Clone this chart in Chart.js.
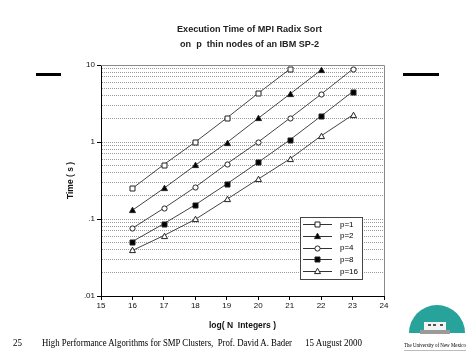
<!DOCTYPE html>
<html><head><meta charset="utf-8">
<script src="https://cdn.jsdelivr.net/npm/chart.js@4/dist/chart.umd.min.js"></script>
<style>
html,body{margin:0;padding:0;background:#fff;width:474px;height:355px;overflow:hidden;position:relative}
#c{position:absolute;left:0;top:0}
.t{position:absolute;white-space:nowrap;transform-origin:left top;line-height:1;color:#000}
.ttl{font-family:"Liberation Sans",Arial,sans-serif;font-weight:bold;font-size:9px;color:#222}
.ft{font-family:"Liberation Serif","Times New Roman",serif;font-size:11px}
.bar{position:absolute;height:3px;background:#000}
</style></head><body>
<canvas id="c" width="474" height="355"></canvas>
<div class="t ttl" data-w="145" style="left:177px;top:25px">Execution Time of MPI Radix Sort</div>
<div class="t ttl" data-w="139" style="left:180px;top:40px">on&nbsp; p&nbsp; thin nodes of an IBM SP-2</div>
<div class="bar" style="left:36px;top:73px;width:25px"></div>
<div class="bar" style="left:403px;top:73px;width:36px"></div>
<div class="t ft" data-w="9" style="left:13px;top:337px">25</div>
<div class="t ft" data-w="250" style="left:42px;top:337px">High Performance Algorithms for SMP Clusters,&nbsp; Prof. David A. Bader</div>
<div class="t ft" data-w="57" style="left:305px;top:337px">15 August 2000</div>
<div style="position:absolute;left:409px;top:305px;width:56px;height:28px;background:#27a39c;border-radius:28px 28px 0 0"></div>
<div style="position:absolute;left:424px;top:322px;width:22px;height:12px;background:#f4f4f4"></div>
<div style="position:absolute;left:420px;top:330px;width:30px;height:4px;background:#9a9a9a"></div>
<div style="position:absolute;left:428px;top:324px;width:3px;height:2px;background:#555"></div>
<div style="position:absolute;left:433px;top:324px;width:3px;height:2px;background:#555"></div>
<div style="position:absolute;left:440px;top:324px;width:3px;height:2px;background:#555"></div>
<div class="t" data-w="62" style="left:404px;top:343px;font-family:'Liberation Serif',serif;font-size:5.5px">The University of New Mexico</div>
<div style="position:absolute;left:404px;top:350px;width:62px;height:1px;background:#bbb"></div>
<script>
// ---- data ----
const logN = [16, 17, 18, 19, 20, 21, 22, 23];
const seriesNames = ['p=1', 'p=2', 'p=4', 'p=8', 'p=16'];
const timeP1  = [0.25, 0.51, 1.0, 2.05, 4.3, 8.8];
const timeP2  = [0.13, 0.25, 0.5, 0.98, 2.03, 4.17, 8.6];
const timeP4  = [0.076, 0.138, 0.26, 0.52, 1.0, 2.03, 4.17, 8.8];
const timeP8  = [0.051, 0.087, 0.153, 0.285, 0.545, 1.06, 2.17, 4.5];
const timeP16 = [0.039, 0.061, 0.099, 0.18, 0.33, 0.6, 1.2, 2.24];
const xMin = 15, xMax = 24;
const yGridValues = [0.01,0.02,0.03,0.04,0.05,0.06,0.07,0.08,0.09,
                     0.1,0.2,0.3,0.4,0.5,0.6,0.7,0.8,0.9,
                     1,2,3,4,5,6,7,8,9,10];
const yLabelValues = [0.01, 0.1, 1, 10];
const yLabelTexts = ['.01', '.1', '1', '10'];

// ---- styles ----
const markerStyles = [
  {shape:'rect', fill:'#fff', r:2.5},
  {shape:'triangle', fill:'#000', r:3},
  {shape:'circle', fill:'#fff', r:2.6},
  {shape:'rect', fill:'#000', r:2.5},
  {shape:'triangle', fill:'#fff', r:3}
];
const allSeries = [timeP1, timeP2, timeP4, timeP8, timeP16];

function fitTexts(){
  document.querySelectorAll('[data-w]').forEach(el=>{
    const w = el.getBoundingClientRect().width;
    const target = parseFloat(el.dataset.w);
    if (w > 0) el.style.transform = 'scaleX(' + (target / w) + ')';
  });
}
fitTexts();

function drawMarker(ctx, st, x, y){
  ctx.save();
  ctx.lineWidth = 1;
  ctx.strokeStyle = '#222';
  ctx.fillStyle = st.fill;
  ctx.beginPath();
  if (st.shape === 'rect') {
    ctx.rect(x - st.r, y - st.r, st.r*2, st.r*2);
  } else if (st.shape === 'triangle') {
    const r = st.r;
    ctx.moveTo(x, y - r*1.1);
    ctx.lineTo(x + r, y + r*0.7);
    ctx.lineTo(x - r, y + r*0.7);
    ctx.closePath();
  } else {
    ctx.arc(x, y, st.r, 0, Math.PI*2);
  }
  ctx.fill();
  ctx.stroke();
  ctx.restore();
}

const isLabelled = v => yLabelValues.some(t => Math.abs(t - v) < t*1e-6);

const framePlugin = {
  id: 'frame',
  afterDraw(chart){
    const {ctx, chartArea:a} = chart;
    ctx.save();
    ctx.strokeStyle = '#8a8a8a';
    ctx.lineWidth = 1;
    ctx.beginPath();
    ctx.moveTo(a.left, a.top + 0.5); ctx.lineTo(a.right + 0.5, a.top + 0.5);
    ctx.lineTo(a.right + 0.5, a.bottom);
    ctx.stroke();
    // legend box
    const bx = 300.5, by = 217.5, bw = 62, bh = 62;
    ctx.fillStyle = '#fff';
    ctx.fillRect(bx, by, bw, bh);
    ctx.strokeStyle = '#444';
    ctx.strokeRect(bx, by, bw, bh);
    ctx.font = '8px "Liberation Sans", Arial, sans-serif';
    ctx.textBaseline = 'middle';
    seriesNames.forEach((name, i) => {
      const y = 224 + i * 11.75;
      ctx.strokeStyle = '#333';
      ctx.beginPath();
      ctx.moveTo(303, Math.round(y) + 0.5); ctx.lineTo(332, Math.round(y) + 0.5);
      ctx.stroke();
      drawMarker(ctx, markerStyles[i], 317.5, Math.round(y) + 0.5);
      ctx.fillStyle = '#000';
      ctx.fillText(name, 340, y + 0.5);
    });
    ctx.restore();
  }
};

const datasets = allSeries.map((vals, i) => ({
  label: seriesNames[i],
  data: vals.map((v, j) => ({x: logN[j], y: v})),
  borderColor: '#444',
  borderWidth: 1,
  pointRadius: 0,
  fill: false,
  tension: 0
}));

const markerPlugin = {
  id: 'markers',
  afterDatasetsDraw(chart){
    const ctx = chart.ctx;
    chart.data.datasets.forEach((ds, i) => {
      const meta = chart.getDatasetMeta(i);
      meta.data.forEach(pt => drawMarker(ctx, markerStyles[i], Math.round(pt.x) + 0.5, Math.round(pt.y) + 0.5));
    });
  }
};

const tickFont = {family: '"Liberation Sans", Arial, sans-serif', size: 8};
const titleFont = {family: '"Liberation Sans", Arial, sans-serif', size: 8.5, weight: 'bold'};

new Chart(document.getElementById('c'), {
  type: 'line',
  data: {datasets},
  plugins: [markerPlugin, framePlugin],
  options: {
    responsive: false,
    animation: false,
    devicePixelRatio: 1,
    layout: {padding: {left: 62, top: 65, right: 90, bottom: 24}},
    plugins: {legend: {display: false}, tooltip: {enabled: false}},
    scales: {
      x: {
        type: 'linear', min: xMin, max: xMax,
        afterFit(s){ s.height = 35; },
        ticks: {stepSize: 1, color: '#111', font: tickFont, padding: 1, maxRotation: 0, autoSkip: false},
        grid: {drawOnChartArea: false, tickLength: 4, color: '#000'},
        border: {color: '#000', width: 1},
        title: {display: true, text: 'log( N  Integers )', color: '#111', font: titleFont, padding: 0}
      },
      y: {
        type: 'logarithmic', min: 0.01, max: 10,
        afterFit(s){ s.width = 39; },
        afterBuildTicks(s){ s.ticks = yGridValues.map(v => ({value: v})); },
        ticks: {
          autoSkip: false, color: '#111', font: tickFont, padding: 2,
          callback: (v) => { const k = yLabelValues.findIndex(t => Math.abs(t - v) < t*1e-6); return k >= 0 ? yLabelTexts[k] : ''; }
        },
        grid: {
          color: '#9a9a9a', lineWidth: 1, tickLength: 4,
          tickColor: (c) => (c.tick && isLabelled(c.tick.value)) ? '#000' : 'rgba(0,0,0,0)'
        },
        border: {color: '#000', width: 1, dash: [1, 1]},
        title: {display: true, text: 'Time ( s )', color: '#111', font: titleFont, padding: {top: 4, bottom: 0}}
      }
    }
  }
});
</script>
</body></html>
